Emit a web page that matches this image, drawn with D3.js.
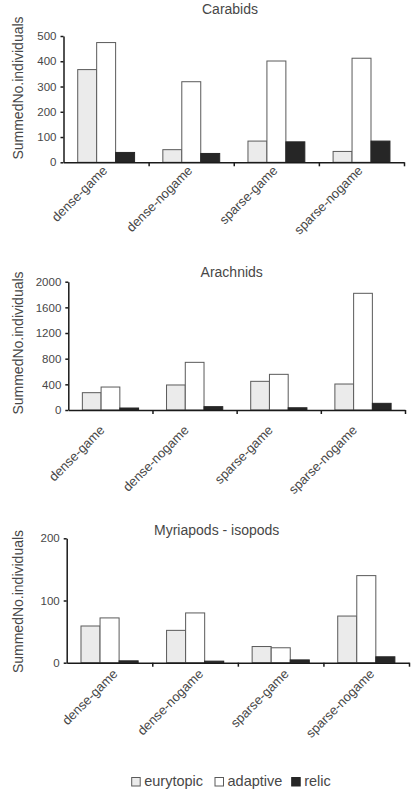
<!DOCTYPE html>
<html lang="en">
<head>
    <meta charset="UTF-8">
    <title>Summed individuals</title>
    <style>
        html,body{
            margin:0;
            background:#fff;
            overflow:hidden;
        }
        text{ font-family: "Liberation Sans", Arial, sans-serif; fill:#474747; }
    </style>
</head>
<body>
    <svg id="svg"></svg>
    <script src="https://d3js.org/d3.v7.min.js"></script>
    <script>
        // data
        const categories = ["dense-game", "dense-nogame", "sparse-game", "sparse-nogame"];
        const groups = ["eurytopic", "adaptive", "relic"];
        const titles = ["Carabids", "Arachnids", "Myriapods - isopods"];

        const carabidsEurytopic = [367, 50, 84, 43];
        const carabidsAdaptive  = [474, 319, 401, 412];
        const carabidsRelic     = [39, 35, 81, 84];

        const arachnidsEurytopic = [270, 390, 447, 405];
        const arachnidsAdaptive  = [358, 743, 556, 1819];
        const arachnidsRelic     = [31, 52, 35, 104];

        const myriapodsEurytopic = [59, 52, 26, 75];
        const myriapodsAdaptive  = [72, 80, 24, 140];
        const myriapodsRelic     = [3, 2.5, 4.5, 9.5];

        const carabidsTicks  = [0, 100, 200, 300, 400, 500];
        const arachnidsTicks = [0, 400, 800, 1200, 1600, 2000];
        const myriapodsTicks = [0, 100, 200];

        const fills = { eurytopic: "#ebebeb", adaptive: "#ffffff", relic: "#262626" };

        const svg = d3.select("#svg").attr("width", 420).attr("height", 800);

        // layout of the three panels
        const panels = [
            { title: titles[0], series: [carabidsEurytopic, carabidsAdaptive, carabidsRelic], ticks: carabidsTicks,
              left: 63.5, right: 404, top: 36, bottom: 162.3, titleX: 230, titleY: 14, labelY: 88, catDx: 2, catDy: 9 },
            { title: titles[1], series: [arachnidsEurytopic, arachnidsAdaptive, arachnidsRelic], ticks: arachnidsTicks,
              left: 68.3, right: 405, top: 281.7, bottom: 410, titleX: 231.7, titleY: 276.5, labelY: 343, catDx: -5, catDy: 21 },
            { title: titles[2], series: [myriapodsEurytopic, myriapodsAdaptive, myriapodsRelic], ticks: myriapodsTicks,
              left: 66.7, right: 409, top: 538.3, bottom: 662.7, titleX: 216.7, titleY: 534.5, labelY: 601.5, catDx: 9, catDy: 12 }
        ];

        panels.forEach(p => {
            const g = svg.append("g");

            const x0 = d3.scaleBand().domain(categories).range([p.left, p.right]);
            const bw = x0.bandwidth();
            const x1 = d3.scaleBand().domain(groups).range([bw * 0.167, bw * 0.835]);
            const y = d3.scaleLinear()
                .domain([0, d3.max(p.ticks)])
                .range([p.bottom, p.top]);

            // bars
            const rows = categories.map((c, i) => ({ cat: c, vals: groups.map((k, j) => ({ key: k, value: p.series[j][i] })) }));
            g.selectAll(".grp").data(rows).join("g")
                .attr("transform", d => `translate(${x0(d.cat)},0)`)
                .selectAll("rect").data(d => d.vals).join("rect")
                .attr("x", d => x1(d.key))
                .attr("y", d => y(d.value))
                .attr("width", x1.bandwidth())
                .attr("height", d => p.bottom - y(d.value))
                .attr("fill", d => fills[d.key])
                .attr("stroke", d => d.key === "relic" ? "#262626" : "#5a5a5a")
                .attr("stroke-width", 1);

            // x axis with ticks at category boundaries
            const xb = d3.scaleLinear().domain([0, categories.length]).range([p.left, p.right]);
            const xAxis = g.append("g")
                .attr("transform", `translate(0,${p.bottom})`)
                .call(d3.axisBottom(xb).tickValues(d3.range(1, categories.length + 1)).tickFormat("").tickSizeInner(4).tickSizeOuter(0));
            xAxis.select(".domain").attr("stroke", "#1a1a1a").attr("stroke-width", 1.5);
            xAxis.selectAll(".tick line").attr("stroke", "#1a1a1a").attr("stroke-width", 1.5);

            // y axis
            const yAxis = g.append("g")
                .attr("transform", `translate(${p.left},0)`)
                .call(d3.axisLeft(y).tickValues(p.ticks).tickFormat(d3.format("d")).tickSizeInner(3).tickSizeOuter(0).tickPadding(4));
            yAxis.select(".domain").attr("stroke", "#1a1a1a").attr("stroke-width", 1.5);
            yAxis.selectAll(".tick line").attr("stroke", "#1a1a1a").attr("stroke-width", 1.5);
            yAxis.selectAll(".tick text").attr("font-size", 11.5).attr("fill", "#474747")
                .style("font-family", "'Liberation Sans', Arial, sans-serif");

            // rotated category labels
            g.selectAll(".cat").data(categories).join("text")
                .attr("class", "cat")
                .attr("text-anchor", "end")
                .attr("font-size", 13)
                .attr("transform", d => `translate(${x0(d) + bw / 2 + p.catDx},${p.bottom + p.catDy}) rotate(-45)`)
                .text(d => d);

            // title
            g.append("text")
                .attr("x", p.titleX).attr("y", p.titleY)
                .attr("text-anchor", "middle")
                .attr("font-size", 14)
                .text(p.title);

            // y label
            g.append("text")
                .attr("transform", `translate(23,${p.labelY}) rotate(-90)`)
                .attr("text-anchor", "middle")
                .attr("font-size", 14)
                .text("SummedNo.individuals");
        });

        // legend
        const legendX = [131.7, 215, 291.7];
        const legend = svg.append("g").selectAll("g").data(groups).join("g")
            .attr("transform", (d, i) => `translate(${legendX[i]},777.5)`);
        legend.append("rect")
            .attr("width", 8.5).attr("height", 8.5)
            .attr("fill", d => fills[d])
            .attr("stroke", d => d === "relic" ? "#262626" : "#5a5a5a");
        legend.append("text")
            .attr("x", 12.5).attr("y", 8.7)
            .attr("font-size", 14.5)
            .text(d => d);
    </script>
</body>
</html>
